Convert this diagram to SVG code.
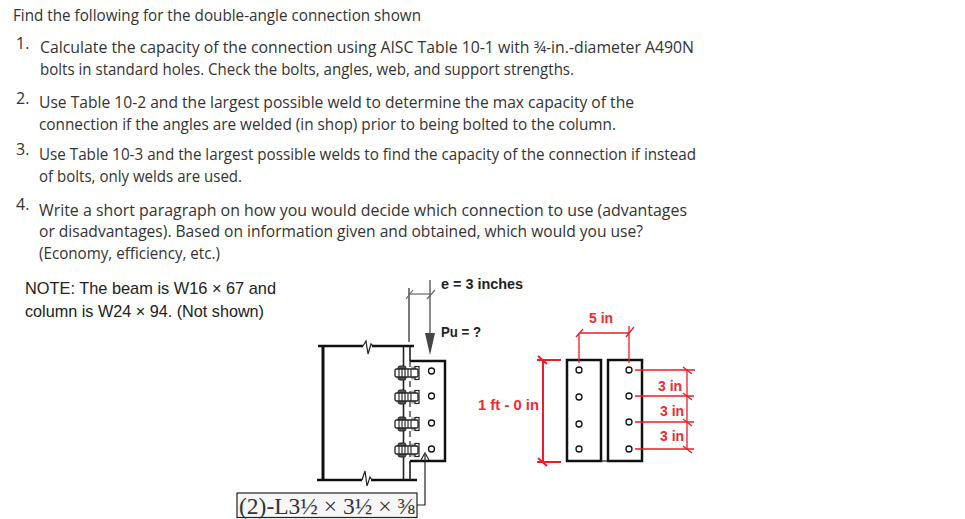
<svg xmlns="http://www.w3.org/2000/svg" width="965" height="519" viewBox="0 0 965 519">
<defs>
<style>
.t{font-family:"Open Sans","Noto Sans",sans-serif;font-size:15.5px;fill:#333}
.n{font-family:"Open Sans","Noto Sans",sans-serif;font-size:16px;fill:#333}
.note{font-family:"Liberation Sans",Arial,sans-serif;font-size:17px;fill:#222}
.b{font-family:"Liberation Sans",Arial,sans-serif;font-size:14px;font-weight:bold;fill:#222}
.r{font-family:"Liberation Sans",Arial,sans-serif;font-size:14px;font-weight:bold;fill:#ee2a30}
.k{fill:none;stroke:#111;stroke-width:2.5}
.k3{fill:none;stroke:#111;stroke-width:3}
.thin{fill:none;stroke:#222;stroke-width:1.2}
.g{fill:none;stroke:#666;stroke-width:1.2}
.red{fill:none;stroke:#ee1c24;stroke-width:1.3}
.red2{fill:none;stroke:#ee1c24;stroke-width:2}
.h{fill:#fff;stroke:#111;stroke-width:1.3}
</style>
<g id="bolt">
<rect x="3" y="-7" width="8" height="14" rx="2" fill="#555" stroke="#222"/>
<rect x="16" y="-6.500" width="5" height="13" fill="#aaa"/>
<rect x="20" y="-6.500" width="4" height="13" fill="#fff" stroke="#222" stroke-width="1.200"/>
<rect x="0" y="-4" width="23" height="8" rx="1.500" fill="#fff" stroke="#222" stroke-width="1.300"/>
<path d="M4 -4v8M7 -4v8M10 -4v8M13 -4v8M16 -4v8" stroke="#333" stroke-width="1.200" fill="none"/>
</g>
</defs>
<rect width="965" height="519" fill="#fff"/>

<g id="question-text">
<text class="t" x="13" y="21" textLength="408" lengthAdjust="spacingAndGlyphs">Find the following for the double-angle connection shown</text>
<text class="n" x="16" y="49">1.</text>
<text class="t" x="40" y="53" textLength="654" lengthAdjust="spacingAndGlyphs">Calculate the capacity of the connection using AISC Table 10-1 with ¾-in.-diameter A490N</text>
<text class="t" x="40" y="75" textLength="534" lengthAdjust="spacingAndGlyphs">bolts in standard holes. Check the bolts, angles, web, and support strengths.</text>
<text class="n" x="16" y="104">2.</text>
<text class="t" x="39" y="108" textLength="595" lengthAdjust="spacingAndGlyphs">Use Table 10-2 and the largest possible weld to determine the max capacity of the</text>
<text class="t" x="39" y="130" textLength="577" lengthAdjust="spacingAndGlyphs">connection if the angles are welded (in shop) prior to being bolted to the column.</text>
<text class="n" x="16" y="155">3.</text>
<text class="t" x="39" y="160" textLength="657" lengthAdjust="spacingAndGlyphs">Use Table 10-3 and the largest possible welds to find the capacity of the connection if instead</text>
<text class="t" x="39" y="182" textLength="203" lengthAdjust="spacingAndGlyphs">of bolts, only welds are used.</text>
<text class="n" x="16" y="210">4.</text>
<text class="t" x="39" y="216" textLength="648" lengthAdjust="spacingAndGlyphs">Write a short paragraph on how you would decide which connection to use (advantages</text>
<text class="t" x="39" y="237" textLength="604" lengthAdjust="spacingAndGlyphs">or disadvantages).  Based on information given and obtained, which would you use?</text>
<text class="t" x="39" y="259" textLength="181" lengthAdjust="spacingAndGlyphs">(Economy, efficiency, etc.)</text>
<text class="note" x="25" y="294" textLength="251" lengthAdjust="spacingAndGlyphs">NOTE:  The beam is W16 × 67 and</text>
<text class="note" x="25" y="317" textLength="239" lengthAdjust="spacingAndGlyphs">column is W24 × 94. (Not shown)</text>
</g>

<g id="beam">
<path class="k" d="M318 346H363M372 346H414"/>
<path class="k" d="M317 480H362M371 480H417"/>
<path class="k3" d="M323 346V480"/>
<path class="thin" d="M363 346L366 341L368 354L371 344L373 346"/>
<path class="thin" d="M362 480L365 471L367 486L370 477L372 480"/>
<path d="M403.500 346V480" fill="none" stroke="#222" stroke-width="1.600"/>
<path d="M410 346V361M410 461V480" fill="none" stroke="#222" stroke-width="1.600"/>
</g>

<g id="angle">
<path class="k" d="M410 361H445V461H410"/>
<path d="M410 361V461" stroke="#222" stroke-width="1.200" stroke-dasharray="6 4" fill="none"/>
<use href="#bolt" x="395" y="373"/>
<use href="#bolt" x="395" y="397"/>
<use href="#bolt" x="395" y="424"/>
<use href="#bolt" x="395" y="450"/>
<circle class="h" cx="431.500" cy="371" r="3"/>
<circle class="h" cx="431.500" cy="396" r="3"/>
<circle class="h" cx="431.500" cy="423" r="3"/>
<circle class="h" cx="431.500" cy="449" r="3"/>
</g>

<g id="load-labels">
<text class="b" x="441" y="289" textLength="82" lengthAdjust="spacingAndGlyphs">e = 3 inches</text>
<text class="b" x="441" y="337" textLength="40" lengthAdjust="spacingAndGlyphs">Pu = ?</text>
</g>

<g id="section-label">
<rect x="237" y="493" width="180" height="24.500" fill="#f6f6f6" stroke="#222" stroke-width="1.200"/>
<text x="239" y="514" font-family="'Liberation Serif','Times New Roman',serif" font-size="23" fill="#333" textLength="176" lengthAdjust="spacingAndGlyphs">(2)-L3½ × 3½ × ⅜</text>
</g>

<g id="plates">
<rect class="k" x="567" y="360" width="34" height="101"/>
<rect class="k" x="608" y="360" width="34" height="101"/>
<path class="thin" d="M601 461H608"/>
<circle class="h" cx="579" cy="370" r="3"/>
<circle class="h" cx="579" cy="397" r="3"/>
<circle class="h" cx="579" cy="424" r="3"/>
<circle class="h" cx="579" cy="449" r="3"/>
<circle class="h" cx="629" cy="370" r="3"/>
<circle class="h" cx="629" cy="396" r="3"/>
<circle class="h" cx="629" cy="422" r="3"/>
<circle class="h" cx="629" cy="449" r="3"/>
</g>

<g id="plate-labels">
<text class="r" x="589" y="323">5 in</text>
<text class="r" x="478" y="410" textLength="61" lengthAdjust="spacingAndGlyphs">1 ft - 0 in</text>
<text class="r" x="658" y="391">3 in</text>
<text class="r" x="660" y="416">3 in</text>
<text class="r" x="660" y="441">3 in</text>
</g>

<g id="connectors">
<path class="thin" d="M409 288V342"/>
<path class="g" d="M409 294H430"/>
<path d="M430 280V340" fill="none" stroke="#666" stroke-width="1.500"/>
<path class="g" d="M406 299L413 290M427 299L435 290"/>
<path d="M425 333H435L430 355Z" fill="#444"/>
<path class="thin" d="M425 455V505H417"/>
<path class="thin" d="M421 460L425 453L429 460"/>
<path class="red" d="M579 363V333M629 363V326M579 333H629M576 337L583 329M626 337L634 327"/>
<path class="red2" d="M537 360H561M537 462H561M543 360V462"/>
<path class="red2" d="M538 356L547 364M538 458L547 466"/>
<path class="red" d="M635 370H695M635 396H694M635 422H694M635 449H694M687 370V449"/>
<path class="red" d="M683 367L692 374M683 393L692 400M683 419L692 426M683 446L692 453"/>
</g>
</svg>
